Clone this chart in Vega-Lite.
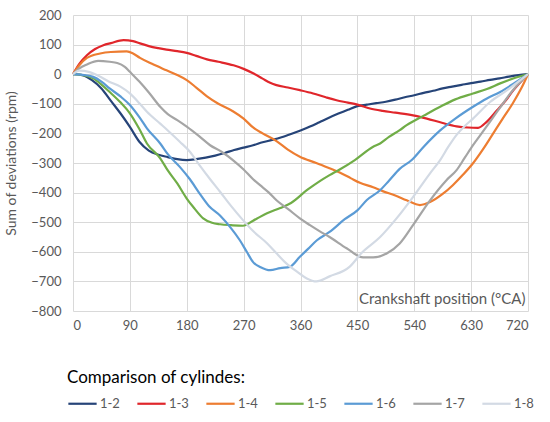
{
  "$schema": "https://vega.github.io/schema/vega-lite/v6.json",
  "width": 455,
  "height": 296,
  "autosize": {"type": "none"},
  "padding": {"left": 73, "top": 15, "right": 22, "bottom": 111},
  "background": "white",
  "data": {
    "values": [
      {"deg": 0, "v": 0, "s": "1-2"}, {"deg": 15, "v": -3, "s": "1-2"}, {"deg": 30, "v": -20, "s": "1-2"}, {"deg": 45, "v": -48, "s": "1-2"}, {"deg": 60, "v": -90, "s": "1-2"}, {"deg": 75, "v": -132, "s": "1-2"}, {"deg": 90, "v": -178, "s": "1-2"}, {"deg": 105, "v": -228, "s": "1-2"}, {"deg": 120, "v": -258, "s": "1-2"}, {"deg": 135, "v": -272, "s": "1-2"}, {"deg": 150, "v": -280, "s": "1-2"}, {"deg": 165, "v": -287, "s": "1-2"}, {"deg": 180, "v": -290, "s": "1-2"}, {"deg": 195, "v": -287, "s": "1-2"}, {"deg": 210, "v": -282, "s": "1-2"}, {"deg": 225, "v": -275, "s": "1-2"}, {"deg": 240, "v": -266, "s": "1-2"}, {"deg": 255, "v": -256, "s": "1-2"}, {"deg": 270, "v": -248, "s": "1-2"}, {"deg": 285, "v": -240, "s": "1-2"}, {"deg": 300, "v": -230, "s": "1-2"}, {"deg": 315, "v": -222, "s": "1-2"}, {"deg": 330, "v": -213, "s": "1-2"}, {"deg": 345, "v": -202, "s": "1-2"}, {"deg": 360, "v": -190, "s": "1-2"}, {"deg": 375, "v": -177, "s": "1-2"}, {"deg": 390, "v": -162, "s": "1-2"}, {"deg": 405, "v": -147, "s": "1-2"}, {"deg": 420, "v": -133, "s": "1-2"}, {"deg": 435, "v": -120, "s": "1-2"}, {"deg": 450, "v": -108, "s": "1-2"}, {"deg": 465, "v": -103, "s": "1-2"}, {"deg": 480, "v": -98, "s": "1-2"}, {"deg": 495, "v": -93, "s": "1-2"}, {"deg": 510, "v": -86, "s": "1-2"}, {"deg": 525, "v": -78, "s": "1-2"}, {"deg": 540, "v": -71, "s": "1-2"}, {"deg": 555, "v": -63, "s": "1-2"}, {"deg": 570, "v": -56, "s": "1-2"}, {"deg": 585, "v": -48, "s": "1-2"}, {"deg": 600, "v": -42, "s": "1-2"}, {"deg": 615, "v": -36, "s": "1-2"}, {"deg": 630, "v": -30, "s": "1-2"}, {"deg": 645, "v": -25, "s": "1-2"}, {"deg": 660, "v": -19, "s": "1-2"}, {"deg": 675, "v": -14, "s": "1-2"}, {"deg": 690, "v": -8, "s": "1-2"}, {"deg": 705, "v": -3, "s": "1-2"}, {"deg": 720, "v": 0, "s": "1-2"},

      {"deg": 0, "v": 0, "s": "1-3"}, {"deg": 10, "v": 35, "s": "1-3"}, {"deg": 22, "v": 64, "s": "1-3"}, {"deg": 35, "v": 85, "s": "1-3"}, {"deg": 48, "v": 98, "s": "1-3"}, {"deg": 60, "v": 105, "s": "1-3"}, {"deg": 80, "v": 115, "s": "1-3"}, {"deg": 95, "v": 112, "s": "1-3"}, {"deg": 106, "v": 104, "s": "1-3"}, {"deg": 120, "v": 95, "s": "1-3"}, {"deg": 135, "v": 88, "s": "1-3"}, {"deg": 148, "v": 83, "s": "1-3"}, {"deg": 165, "v": 78, "s": "1-3"}, {"deg": 180, "v": 72, "s": "1-3"}, {"deg": 195, "v": 62, "s": "1-3"}, {"deg": 212, "v": 50, "s": "1-3"}, {"deg": 230, "v": 42, "s": "1-3"}, {"deg": 254, "v": 30, "s": "1-3"}, {"deg": 270, "v": 18, "s": "1-3"}, {"deg": 285, "v": 3, "s": "1-3"}, {"deg": 300, "v": -15, "s": "1-3"}, {"deg": 312, "v": -29, "s": "1-3"}, {"deg": 322, "v": -37, "s": "1-3"}, {"deg": 340, "v": -45, "s": "1-3"}, {"deg": 359, "v": -54, "s": "1-3"}, {"deg": 380, "v": -65, "s": "1-3"}, {"deg": 400, "v": -78, "s": "1-3"}, {"deg": 417, "v": -88, "s": "1-3"}, {"deg": 435, "v": -96, "s": "1-3"}, {"deg": 450, "v": -103, "s": "1-3"}, {"deg": 470, "v": -116, "s": "1-3"}, {"deg": 490, "v": -124, "s": "1-3"}, {"deg": 510, "v": -130, "s": "1-3"}, {"deg": 538, "v": -139, "s": "1-3"}, {"deg": 560, "v": -150, "s": "1-3"}, {"deg": 585, "v": -165, "s": "1-3"}, {"deg": 607, "v": -176, "s": "1-3"}, {"deg": 625, "v": -180, "s": "1-3"}, {"deg": 641, "v": -181, "s": "1-3"}, {"deg": 655, "v": -160, "s": "1-3"}, {"deg": 671, "v": -122, "s": "1-3"}, {"deg": 685, "v": -88, "s": "1-3"}, {"deg": 697, "v": -54, "s": "1-3"}, {"deg": 710, "v": -22, "s": "1-3"}, {"deg": 720, "v": 0, "s": "1-3"},

      {"deg": 0, "v": 0, "s": "1-4"}, {"deg": 10, "v": 30, "s": "1-4"}, {"deg": 22, "v": 55, "s": "1-4"}, {"deg": 43, "v": 70, "s": "1-4"}, {"deg": 60, "v": 75, "s": "1-4"}, {"deg": 85, "v": 77, "s": "1-4"}, {"deg": 95, "v": 70, "s": "1-4"}, {"deg": 106, "v": 55, "s": "1-4"}, {"deg": 125, "v": 35, "s": "1-4"}, {"deg": 148, "v": 13, "s": "1-4"}, {"deg": 165, "v": -3, "s": "1-4"}, {"deg": 180, "v": -20, "s": "1-4"}, {"deg": 195, "v": -45, "s": "1-4"}, {"deg": 212, "v": -75, "s": "1-4"}, {"deg": 230, "v": -100, "s": "1-4"}, {"deg": 253, "v": -125, "s": "1-4"}, {"deg": 270, "v": -150, "s": "1-4"}, {"deg": 285, "v": -180, "s": "1-4"}, {"deg": 300, "v": -200, "s": "1-4"}, {"deg": 322, "v": -226, "s": "1-4"}, {"deg": 340, "v": -255, "s": "1-4"}, {"deg": 359, "v": -279, "s": "1-4"}, {"deg": 385, "v": -300, "s": "1-4"}, {"deg": 406, "v": -318, "s": "1-4"}, {"deg": 422, "v": -332, "s": "1-4"}, {"deg": 440, "v": -352, "s": "1-4"}, {"deg": 454, "v": -367, "s": "1-4"}, {"deg": 475, "v": -382, "s": "1-4"}, {"deg": 490, "v": -395, "s": "1-4"}, {"deg": 510, "v": -410, "s": "1-4"}, {"deg": 528, "v": -426, "s": "1-4"}, {"deg": 549, "v": -442, "s": "1-4"}, {"deg": 565, "v": -432, "s": "1-4"}, {"deg": 586, "v": -403, "s": "1-4"}, {"deg": 601, "v": -375, "s": "1-4"}, {"deg": 617, "v": -340, "s": "1-4"}, {"deg": 633, "v": -301, "s": "1-4"}, {"deg": 650, "v": -250, "s": "1-4"}, {"deg": 665, "v": -200, "s": "1-4"}, {"deg": 680, "v": -150, "s": "1-4"}, {"deg": 696, "v": -98, "s": "1-4"}, {"deg": 710, "v": -45, "s": "1-4"}, {"deg": 720, "v": 0, "s": "1-4"},

      {"deg": 0, "v": 0, "s": "1-5"}, {"deg": 15, "v": -3, "s": "1-5"}, {"deg": 32, "v": -14, "s": "1-5"}, {"deg": 45, "v": -35, "s": "1-5"}, {"deg": 58, "v": -60, "s": "1-5"}, {"deg": 75, "v": -95, "s": "1-5"}, {"deg": 90, "v": -132, "s": "1-5"}, {"deg": 105, "v": -185, "s": "1-5"}, {"deg": 117, "v": -234, "s": "1-5"}, {"deg": 138, "v": -284, "s": "1-5"}, {"deg": 150, "v": -325, "s": "1-5"}, {"deg": 165, "v": -369, "s": "1-5"}, {"deg": 180, "v": -420, "s": "1-5"}, {"deg": 190, "v": -448, "s": "1-5"}, {"deg": 206, "v": -487, "s": "1-5"}, {"deg": 220, "v": -502, "s": "1-5"}, {"deg": 233, "v": -507, "s": "1-5"}, {"deg": 250, "v": -510, "s": "1-5"}, {"deg": 269, "v": -512, "s": "1-5"}, {"deg": 285, "v": -495, "s": "1-5"}, {"deg": 296, "v": -482, "s": "1-5"}, {"deg": 307, "v": -470, "s": "1-5"}, {"deg": 328, "v": -452, "s": "1-5"}, {"deg": 345, "v": -435, "s": "1-5"}, {"deg": 370, "v": -392, "s": "1-5"}, {"deg": 390, "v": -362, "s": "1-5"}, {"deg": 406, "v": -341, "s": "1-5"}, {"deg": 422, "v": -322, "s": "1-5"}, {"deg": 446, "v": -290, "s": "1-5"}, {"deg": 475, "v": -245, "s": "1-5"}, {"deg": 486, "v": -234, "s": "1-5"}, {"deg": 500, "v": -212, "s": "1-5"}, {"deg": 517, "v": -189, "s": "1-5"}, {"deg": 528, "v": -172, "s": "1-5"}, {"deg": 555, "v": -140, "s": "1-5"}, {"deg": 581, "v": -110, "s": "1-5"}, {"deg": 605, "v": -85, "s": "1-5"}, {"deg": 633, "v": -65, "s": "1-5"}, {"deg": 655, "v": -50, "s": "1-5"}, {"deg": 676, "v": -31, "s": "1-5"}, {"deg": 700, "v": -12, "s": "1-5"}, {"deg": 720, "v": 0, "s": "1-5"},

      {"deg": 0, "v": 0, "s": "1-6"}, {"deg": 15, "v": -2, "s": "1-6"}, {"deg": 32, "v": -9, "s": "1-6"}, {"deg": 45, "v": -25, "s": "1-6"}, {"deg": 58, "v": -48, "s": "1-6"}, {"deg": 75, "v": -75, "s": "1-6"}, {"deg": 90, "v": -104, "s": "1-6"}, {"deg": 105, "v": -145, "s": "1-6"}, {"deg": 117, "v": -183, "s": "1-6"}, {"deg": 138, "v": -234, "s": "1-6"}, {"deg": 150, "v": -270, "s": "1-6"}, {"deg": 169, "v": -313, "s": "1-6"}, {"deg": 185, "v": -355, "s": "1-6"}, {"deg": 201, "v": -405, "s": "1-6"}, {"deg": 215, "v": -445, "s": "1-6"}, {"deg": 233, "v": -478, "s": "1-6"}, {"deg": 250, "v": -520, "s": "1-6"}, {"deg": 264, "v": -561, "s": "1-6"}, {"deg": 275, "v": -600, "s": "1-6"}, {"deg": 285, "v": -635, "s": "1-6"}, {"deg": 297, "v": -652, "s": "1-6"}, {"deg": 312, "v": -662, "s": "1-6"}, {"deg": 328, "v": -655, "s": "1-6"}, {"deg": 343, "v": -651, "s": "1-6"}, {"deg": 359, "v": -617, "s": "1-6"}, {"deg": 372, "v": -590, "s": "1-6"}, {"deg": 386, "v": -561, "s": "1-6"}, {"deg": 406, "v": -533, "s": "1-6"}, {"deg": 430, "v": -490, "s": "1-6"}, {"deg": 450, "v": -460, "s": "1-6"}, {"deg": 465, "v": -425, "s": "1-6"}, {"deg": 486, "v": -392, "s": "1-6"}, {"deg": 500, "v": -360, "s": "1-6"}, {"deg": 517, "v": -320, "s": "1-6"}, {"deg": 536, "v": -290, "s": "1-6"}, {"deg": 555, "v": -245, "s": "1-6"}, {"deg": 581, "v": -190, "s": "1-6"}, {"deg": 605, "v": -150, "s": "1-6"}, {"deg": 633, "v": -110, "s": "1-6"}, {"deg": 655, "v": -82, "s": "1-6"}, {"deg": 676, "v": -60, "s": "1-6"}, {"deg": 700, "v": -28, "s": "1-6"}, {"deg": 720, "v": 0, "s": "1-6"},

      {"deg": 0, "v": 0, "s": "1-7"}, {"deg": 10, "v": 20, "s": "1-7"}, {"deg": 22, "v": 33, "s": "1-7"}, {"deg": 40, "v": 45, "s": "1-7"}, {"deg": 58, "v": 42, "s": "1-7"}, {"deg": 70, "v": 38, "s": "1-7"}, {"deg": 82, "v": 25, "s": "1-7"}, {"deg": 90, "v": 8, "s": "1-7"}, {"deg": 105, "v": -25, "s": "1-7"}, {"deg": 120, "v": -62, "s": "1-7"}, {"deg": 138, "v": -110, "s": "1-7"}, {"deg": 150, "v": -135, "s": "1-7"}, {"deg": 165, "v": -155, "s": "1-7"}, {"deg": 180, "v": -177, "s": "1-7"}, {"deg": 200, "v": -210, "s": "1-7"}, {"deg": 217, "v": -240, "s": "1-7"}, {"deg": 235, "v": -262, "s": "1-7"}, {"deg": 253, "v": -290, "s": "1-7"}, {"deg": 270, "v": -322, "s": "1-7"}, {"deg": 285, "v": -355, "s": "1-7"}, {"deg": 296, "v": -375, "s": "1-7"}, {"deg": 310, "v": -400, "s": "1-7"}, {"deg": 322, "v": -426, "s": "1-7"}, {"deg": 340, "v": -455, "s": "1-7"}, {"deg": 359, "v": -487, "s": "1-7"}, {"deg": 375, "v": -510, "s": "1-7"}, {"deg": 390, "v": -530, "s": "1-7"}, {"deg": 406, "v": -550, "s": "1-7"}, {"deg": 433, "v": -588, "s": "1-7"}, {"deg": 459, "v": -619, "s": "1-7"}, {"deg": 475, "v": -619, "s": "1-7"}, {"deg": 497, "v": -605, "s": "1-7"}, {"deg": 517, "v": -572, "s": "1-7"}, {"deg": 538, "v": -510, "s": "1-7"}, {"deg": 565, "v": -426, "s": "1-7"}, {"deg": 591, "v": -358, "s": "1-7"}, {"deg": 607, "v": -324, "s": "1-7"}, {"deg": 620, "v": -282, "s": "1-7"}, {"deg": 633, "v": -240, "s": "1-7"}, {"deg": 650, "v": -190, "s": "1-7"}, {"deg": 665, "v": -145, "s": "1-7"}, {"deg": 680, "v": -100, "s": "1-7"}, {"deg": 696, "v": -54, "s": "1-7"}, {"deg": 710, "v": -22, "s": "1-7"}, {"deg": 720, "v": 0, "s": "1-7"},

      {"deg": 0, "v": 0, "s": "1-8"}, {"deg": 10, "v": 12, "s": "1-8"}, {"deg": 25, "v": 8, "s": "1-8"}, {"deg": 40, "v": -5, "s": "1-8"}, {"deg": 58, "v": -26, "s": "1-8"}, {"deg": 75, "v": -42, "s": "1-8"}, {"deg": 90, "v": -65, "s": "1-8"}, {"deg": 105, "v": -98, "s": "1-8"}, {"deg": 117, "v": -127, "s": "1-8"}, {"deg": 138, "v": -167, "s": "1-8"}, {"deg": 150, "v": -190, "s": "1-8"}, {"deg": 169, "v": -228, "s": "1-8"}, {"deg": 185, "v": -262, "s": "1-8"}, {"deg": 201, "v": -310, "s": "1-8"}, {"deg": 217, "v": -355, "s": "1-8"}, {"deg": 233, "v": -398, "s": "1-8"}, {"deg": 250, "v": -445, "s": "1-8"}, {"deg": 269, "v": -493, "s": "1-8"}, {"deg": 285, "v": -530, "s": "1-8"}, {"deg": 307, "v": -571, "s": "1-8"}, {"deg": 322, "v": -605, "s": "1-8"}, {"deg": 338, "v": -640, "s": "1-8"}, {"deg": 355, "v": -668, "s": "1-8"}, {"deg": 370, "v": -690, "s": "1-8"}, {"deg": 385, "v": -700, "s": "1-8"}, {"deg": 406, "v": -683, "s": "1-8"}, {"deg": 438, "v": -650, "s": "1-8"}, {"deg": 457, "v": -603, "s": "1-8"}, {"deg": 486, "v": -550, "s": "1-8"}, {"deg": 512, "v": -487, "s": "1-8"}, {"deg": 538, "v": -415, "s": "1-8"}, {"deg": 565, "v": -335, "s": "1-8"}, {"deg": 581, "v": -290, "s": "1-8"}, {"deg": 594, "v": -245, "s": "1-8"}, {"deg": 607, "v": -205, "s": "1-8"}, {"deg": 620, "v": -175, "s": "1-8"}, {"deg": 633, "v": -150, "s": "1-8"}, {"deg": 660, "v": -94, "s": "1-8"}, {"deg": 687, "v": -54, "s": "1-8"}, {"deg": 720, "v": 0, "s": "1-8"}
    ]
  },
  "mark": {"type": "line", "interpolate": "monotone"},
  "encoding": {
    "x": {
      "field": "deg",
      "type": "quantitative",
      "scale": {"domain": [0, 720], "nice": false},
      "axis": {
        "values": [0, 90, 180, 270, 360, 450, 540, 630, 720],
        "title": "Crankshaft position (°CA)",
        "titleAnchor": "end",
        "titleAlign": "right",
        "titleBaseline": "bottom",
        "titleX": 452,
        "titleY": -5,
        "titleFontSize": 15,
        "titleFontWeight": "normal",
        "labelPadding": 8
      }
    },
    "y": {
      "field": "v",
      "type": "quantitative",
      "scale": {"domain": [-800, 200], "nice": false},
      "axis": {
        "values": [-800, -700, -600, -500, -400, -300, -200, -100, 0, 100, 200],
        "title": "Sum of deviations (rpm)",
        "titleFontSize": 14,
        "titleFontWeight": "normal",
        "titlePadding": 12,
        "labelPadding": 12
      }
    },
    "color": {
      "field": "s",
      "type": "nominal",
      "scale": {
        "domain": ["1-2", "1-3", "1-4", "1-5", "1-6", "1-7", "1-8"],
        "range": ["#264478", "#e0262b", "#ed7d31", "#70ad47", "#5b9bd5", "#a5a5a5", "#d3dae4"]
      },
      "legend": {
        "title": "Comparison of cylindes:",
        "orient": "none",
        "legendX": -6,
        "legendY": 355,
        "direction": "horizontal",
        "columns": 7,
        "symbolType": "stroke",
        "symbolSize": 800,
        "symbolStrokeWidth": 2.5,
        "labelOffset": 2,
        "columnPadding": 12,
        "titlePadding": 1
      }
    },
    "strokeWidth": {
      "field": "s",
      "type": "ordinal",
      "scale": {
        "domain": ["1-2", "1-3", "1-4", "1-5", "1-6", "1-7", "1-8"],
        "range": [2.2, 2.2, 2.2, 2.2, 2.2, 2.2, 1]
      },
      "legend": null
    }
  },
  "config": {
    "font": "Lato",
    "view": {"stroke": null},
    "axis": {
      "grid": true,
      "gridColor": "#d9d9d9",
      "gridWidth": 1,
      "domain": false,
      "ticks": false,
      "labelColor": "#595959",
      "titleColor": "#595959",
      "labelFontSize": 13,
      "labelFont": "Lato",
      "titleFont": "Lato"
    },
    "legend": {
      "titleColor": "#000000",
      "titleFontSize": 17,
      "titleFontWeight": "normal",
      "labelColor": "#595959",
      "labelFontSize": 13,
      "labelFont": "Lato",
      "titleFont": "Lato"
    }
  }
}
